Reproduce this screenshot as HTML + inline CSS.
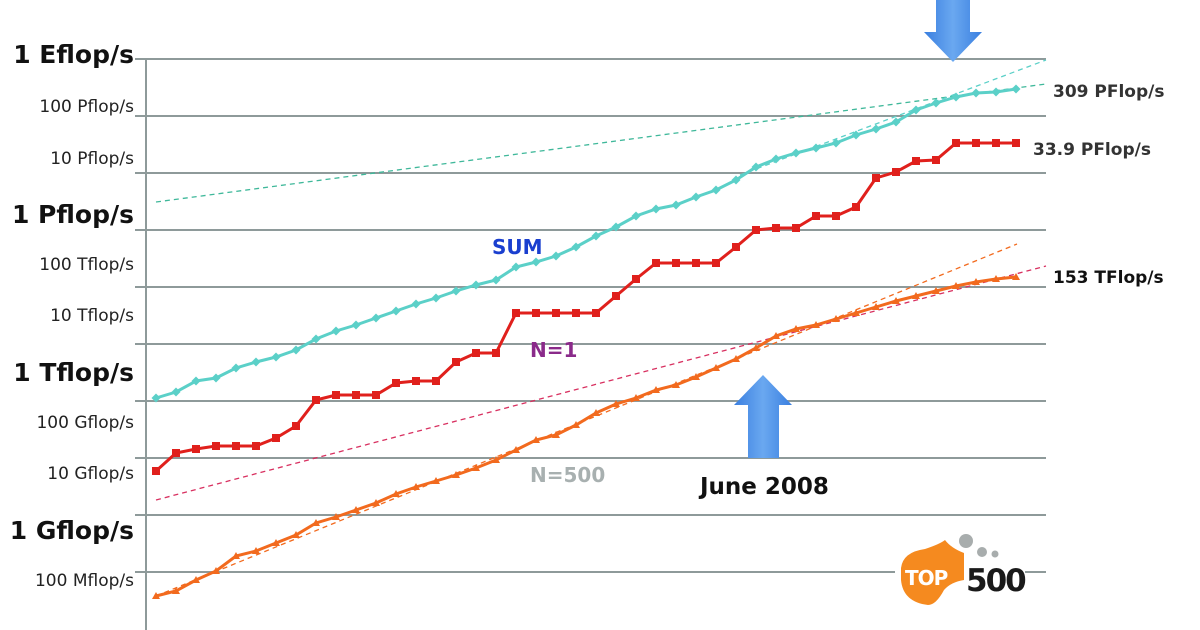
<!DOCTYPE html>
<html><head><meta charset="utf-8"><style>
html,body{margin:0;padding:0;background:#fff}
svg{display:block}
text{font-family:"DejaVu Sans","Liberation Sans",sans-serif}
</style></head><body>
<svg width="1200" height="630" viewBox="0 0 1200 630" xmlns="http://www.w3.org/2000/svg">
<defs>
<marker id="md" viewBox="-5 -5 10 10" markerWidth="10" markerHeight="10" refX="0" refY="0" markerUnits="userSpaceOnUse"><path d="M0,-4.5 L4.5,0 L0,4.5 L-4.5,0Z" fill="#5bd0c8"/></marker>
<marker id="ms" viewBox="-5 -5 10 10" markerWidth="10" markerHeight="10" refX="0" refY="0" markerUnits="userSpaceOnUse"><rect x="-4" y="-4" width="8" height="8" fill="#e0201c"/></marker>
<marker id="mt" viewBox="-5 -5 10 10" markerWidth="10" markerHeight="10" refX="0" refY="0" markerUnits="userSpaceOnUse"><path d="M0,-4 L4,3 L-4,3Z" fill="#f26a1e"/></marker>
<linearGradient id="ag" x1="0" x2="1" y1="0" y2="0"><stop offset="0" stop-color="#3a7fe0"/><stop offset="0.5" stop-color="#6aa8f0"/><stop offset="1" stop-color="#3a7fe0"/></linearGradient>
</defs>
<g stroke="#8e9a9a" stroke-width="2">
<line x1="135" y1="59" x2="1046" y2="59"/><line x1="135" y1="116" x2="1046" y2="116"/><line x1="135" y1="173" x2="1046" y2="173"/><line x1="135" y1="230" x2="1046" y2="230"/><line x1="135" y1="287" x2="1046" y2="287"/><line x1="135" y1="344" x2="1046" y2="344"/><line x1="135" y1="401" x2="1046" y2="401"/><line x1="135" y1="458" x2="1046" y2="458"/><line x1="135" y1="515" x2="1046" y2="515"/><line x1="135" y1="572" x2="1046" y2="572"/>
<line x1="146" y1="59" x2="146" y2="630"/>
</g>
<g font-size="17" fill="#222" text-anchor="end">
<text x="134" y="112">100 Pflop/s</text><text x="134" y="164">10 Pflop/s</text><text x="134" y="270">100 Tflop/s</text><text x="134" y="321">10 Tflop/s</text><text x="134" y="428">100 Gflop/s</text><text x="134" y="479">10 Gflop/s</text><text x="134" y="586">100 Mflop/s</text>
</g>
<g font-size="25" font-weight="bold" fill="#111" text-anchor="end">
<text x="134" y="63">1 Eflop/s</text><text x="134" y="223">1 Pflop/s</text><text x="134" y="381">1 Tflop/s</text><text x="134" y="539">1 Gflop/s</text>
</g>
<g stroke-width="1.3" stroke-dasharray="5,4" fill="none">
<line x1="156" y1="202" x2="1046" y2="84" stroke="#3fb89a"/>
<line x1="740" y1="175" x2="1046" y2="60" stroke="#5bd0c8"/>
<line x1="156" y1="500" x2="1046" y2="266" stroke="#d83060"/>
<line x1="156" y1="596" x2="1017" y2="244" stroke="#f26a1e"/>
</g>
<polyline fill="none" stroke="#5bd0c8" stroke-width="3" marker-start="url(#md)" marker-mid="url(#md)" marker-end="url(#md)" points="156,398 176,392 196,381 216,378 236,368 256,362 276,357 296,350 316,339 336,331 356,325 376,318 396,311 416,304 436,298 456,291 476,285 496,280 516,267 536,262 556,256 576,247 596,236 616,227 636,216 656,209 676,205 696,197 716,190 736,180 756,167 776,159 796,153 816,148 836,143 856,135 876,129 896,122 916,110 936,103 956,97 976,93 996,92 1016,89"/>
<polyline fill="none" stroke="#e0201c" stroke-width="3" marker-start="url(#ms)" marker-mid="url(#ms)" marker-end="url(#ms)" points="156,471 176,453 196,449 216,446 236,446 256,446 276,438 296,426 316,400 336,395 356,395 376,395 396,383 416,381 436,381 456,362 476,353 496,353 516,313 536,313 556,313 576,313 596,313 616,296 636,279 656,263 676,263 696,263 716,263 736,247 756,230 776,228 796,228 816,216 836,216 856,207 876,178 896,172 916,161 936,160 956,143 976,143 996,143 1016,143"/>
<polyline fill="none" stroke="#f26a1e" stroke-width="3" marker-start="url(#mt)" marker-mid="url(#mt)" marker-end="url(#mt)" points="156,596 176,591 196,580 216,571 236,556 256,551 276,543 296,535 316,523 336,517 356,510 376,503 396,494 416,487 436,481 456,475 476,468 496,460 516,450 536,440 556,435 576,425 596,413 616,404 636,398 656,390 676,385 696,377 716,368 736,359 756,348 776,336 796,329 816,325 836,319 856,313 876,307 896,301 916,296 936,291 956,286 976,282 996,279 1016,277"/>
<path d="M936,0 L970,0 L970,32 L982,32 L953,62 L924,32 L936,32Z" fill="url(#ag)"/>
<path d="M748,458 L779,458 L779,405 L792,405 L763,375 L734,405 L748,405Z" fill="url(#ag)"/>
<g font-weight="bold">
<text x="492" y="254" font-size="20" fill="#1a3fcf">SUM</text>
<text x="530" y="357" font-size="20" fill="#8a2a8a">N=1</text>
<text x="530" y="482" font-size="20" fill="#a8b0b0">N=500</text>
<text x="700" y="494" font-size="23" fill="#111">June 2008</text>
<text x="1053" y="97" font-size="17" fill="#333">309 PFlop/s</text>
<text x="1033" y="155" font-size="17" fill="#333">33.9 PFlop/s</text>
<text x="1053" y="283" font-size="17" fill="#111">153 TFlop/s</text>
</g>
<rect x="895" y="560" width="130" height="24" fill="#fff"/>
<circle cx="966" cy="541" r="7" fill="#a8adad"/><circle cx="982" cy="552" r="5" fill="#a8adad"/><circle cx="995" cy="554" r="3.5" fill="#a8adad"/>
<path d="M901,568 Q903,552 925,549 Q940,544 945,540 Q951,548 964,553 L964,580 Q951,582 944,590 Q936,605 928,605 Q903,602 901,580Z" fill="#f58a1f"/>
<text x="905" y="585" font-size="20" font-weight="bold" fill="#fff" letter-spacing="-1">TOP</text>
<text x="966" y="591" font-size="31" font-weight="bold" fill="#1a1a1a" letter-spacing="-2">500</text>
</svg>
</body></html>
